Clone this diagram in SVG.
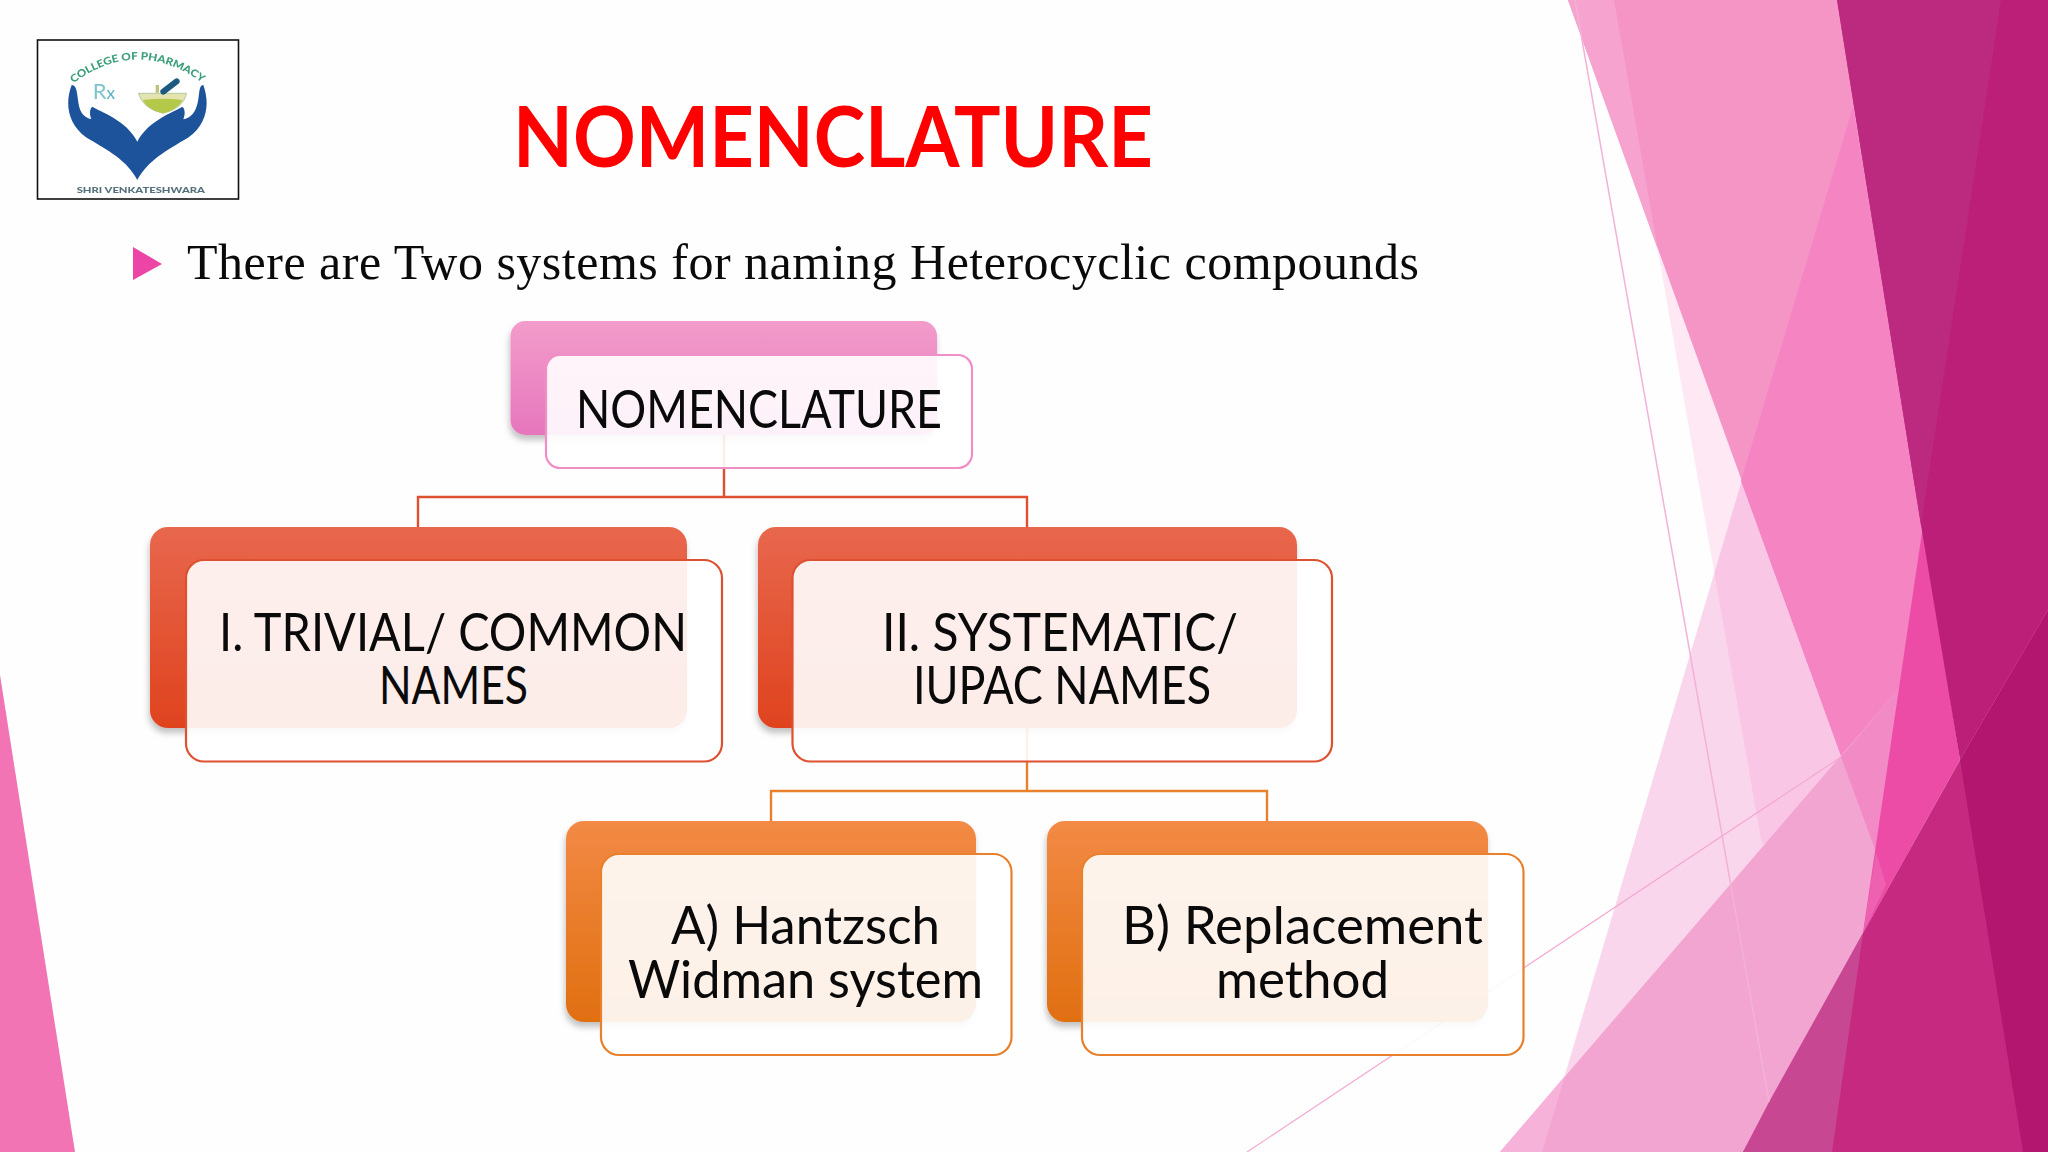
<svg xmlns="http://www.w3.org/2000/svg" width="2048" height="1152" viewBox="0 0 2048 1152">
<style>
.nt{font-family:"Lato","Noto Sans",sans-serif;font-size:52px;fill:#0a0a0a}
.front{fill:#fff;fill-opacity:.9;stroke-width:2.2}
.conn{fill:none;stroke-width:2.4}
.red{stroke:#dd5030}
.org{stroke:#e8802c}
</style>
<defs>
<linearGradient id="gp" x1="0" y1="0" x2="0" y2="1"><stop offset="0" stop-color="#f39cca"/><stop offset="1" stop-color="#e676bd"/></linearGradient>
<linearGradient id="gr" x1="0" y1="0" x2="0" y2="1"><stop offset="0" stop-color="#e8674d"/><stop offset="1" stop-color="#df431e"/></linearGradient>
<linearGradient id="go" x1="0" y1="0" x2="0" y2="1"><stop offset="0" stop-color="#f38a45"/><stop offset="1" stop-color="#e06f10"/></linearGradient>
<filter id="sh" x="-5%" y="-5%" width="110%" height="115%"><feDropShadow dx="-1" dy="5" stdDeviation="3" flood-color="#000" flood-opacity=".24"/></filter>
<filter id="soft" x="-5%" y="-5%" width="110%" height="110%"><feGaussianBlur stdDeviation="1.200"/></filter>
</defs>
<rect width="2048" height="1152" fill="#fefefe"/>
<g id="background">
<polygon points="0,675 75,1152 0,1152" fill="#f274b4"/>
<polygon points="1614,0 1762,845 1960,760 1837,0" fill="#fde8f4"/>
<polygon points="1853,107 1542,1152 1900,1152 1923,525" fill="#f06cbd" fill-opacity=".27"/>
<polygon points="1568,0 1837,0 1923,525 1900,687 1876,852" fill="#f495c6"/>
<polygon points="1568,0 1614,0 1658,250" fill="#f7a3cf"/>
<polygon points="1853,107 1923,525 1900,687 1876,852 1741,481" fill="#f484c2"/>
<polygon points="1500,1152 1900,687 1876,852 1863,933 1743,1152" fill="#f3a5d2"/>
<polygon points="1500,1152 1565,1076 1542,1152" fill="#f7b2da"/>
<polygon points="1900,687 1841,757 1876,852" fill="#f28bc5"/>
<polygon points="1923,525 1960,760 1863,933" fill="#ec4ca5"/>
<polygon points="1876,852 1886,885 1863,933" fill="#ee60b0"/>
<polygon points="1960,760 1863,933 1743,1152 2048,1152 2048,610" fill="#c62a80"/>
<polygon points="1863,933 1769,1102 1743,1152 1832,1152" fill="#c84792"/>
<polygon points="1837,0 2048,0 2048,610 1960,760 1921,525" fill="#bc1f78"/>
<polygon points="1837,0 2001,0 1921,525" fill="#bc2a80"/>
<polygon points="2048,610 2048,1152 2023,1152 1960,760" fill="#b3166f"/>
<line x1="1575" y1="0" x2="1769" y2="1102" stroke="#f2b2d6" stroke-width="1.500"/>
<line x1="1247" y1="1152" x2="1841" y2="757" stroke="#f3a8d2" stroke-width="1.200"/>
</g>
<g id="connectors">
<path class="conn red" d="M724,435V497M418,527V497H1027V527"/>
<path class="conn org" d="M1027,728V791M771,821V791H1267V821"/>
</g>
<g id="logo">
<rect x="37.500" y="40" width="201" height="159" fill="#fff" stroke="#111" stroke-width="1.600"/>
<g transform="translate(20,20) scale(.3333)" filter="url(#soft)">
<path d="M155,195C134,250 143,312 198,352C265,392 320,420 352,480C385,420 440,392 506,352C562,312 570,250 550,195C530,195 545,250 518,282C508,292 500,296 490,298C497,280 494,265 487,260C465,275 385,300 352,365C320,300 240,275 217,260C210,265 207,280 214,298C200,294 192,288 185,278C168,250 178,195 155,195Z" fill="#1b539a"/>
<path id="arc" d="M160,190Q350,48 550,190" fill="none"/>
<text font-family="Lato,sans-serif" font-weight="900" font-size="31" fill="#3a9f78"><textPath href="#arc" startOffset="0" textLength="418" lengthAdjust="spacingAndGlyphs">COLLEGE OF PHARMACY</textPath></text>
<text x="218" y="238" font-family="Lato,sans-serif" font-size="66" fill="#7cc6cc">R<tspan font-size="52" fill="#5ab4c0">x</tspan></text>
<path d="M355,220H500Q490,265 430,280Q370,268 355,220Z" fill="#e4e4b0" stroke="#b6c8a0" stroke-width="3"/>
<path d="M368,240Q430,232 488,240Q470,272 428,280Q385,270 368,240Z" fill="#b4c84a"/>
<path d="M430,215L470,184" stroke="#1e5a80" stroke-width="18" stroke-linecap="round"/>
<path d="M412,218V195" stroke="#c0c078" stroke-width="10"/>
<text x="170" y="518" font-family="Lato,sans-serif" font-weight="900" font-size="25" fill="#55707a" textLength="385" lengthAdjust="spacingAndGlyphs">SHRI VENKATESHWARA</text>
</g>
</g>
<text id="title" x="513" y="167" font-family="Lato,Noto Sans,sans-serif" font-weight="700" font-size="85" fill="#ff0000" textLength="640" lengthAdjust="spacingAndGlyphs">NOMENCLATURE</text>
<polygon points="133,247 162,264 133,280" fill="#ec45a6"/>
<text id="intro" x="187" y="279" font-family="Liberation Serif,serif" font-size="50" fill="#0a0a0a" textLength="1232">There are Two systems for naming Heterocyclic compounds</text>
<g id="node-root">
<rect x="510.500" y="321" width="426.500" height="114" rx="15" fill="url(#gp)" filter="url(#sh)"/>
<rect class="front" x="546" y="355" width="426" height="113" rx="14" stroke="#ef8fc6"/>
<text class="nt" x="576" y="428" textLength="366" lengthAdjust="spacingAndGlyphs">NOMENCLATURE</text>
</g>
<g id="node-trivial">
<rect x="150" y="527" width="537" height="201" rx="18" fill="url(#gr)" filter="url(#sh)"/>
<rect class="front" x="186" y="560" width="536" height="201.500" rx="18" stroke="#dd5030"/>
<text class="nt" x="219" y="651" textLength="468" lengthAdjust="spacingAndGlyphs">I. TRIVIAL/ COMMON</text>
<text class="nt" x="379" y="704" textLength="149" lengthAdjust="spacingAndGlyphs">NAMES</text>
</g>
<g id="node-systematic">
<rect x="758" y="527" width="539" height="201" rx="18" fill="url(#gr)" filter="url(#sh)"/>
<rect class="front" x="792.500" y="560" width="539.500" height="201.500" rx="18" stroke="#dd5030"/>
<text class="nt" x="882" y="651" textLength="356" lengthAdjust="spacingAndGlyphs">II. SYSTEMATIC/</text>
<text class="nt" x="913" y="704" textLength="298" lengthAdjust="spacingAndGlyphs">IUPAC NAMES</text>
</g>
<g id="node-hantzsch">
<rect x="566" y="821" width="410" height="201" rx="18" fill="url(#go)" filter="url(#sh)"/>
<rect class="front" x="601" y="854" width="410.500" height="201" rx="18" stroke="#e8802c"/>
<text class="nt" x="671" y="944" textLength="269" lengthAdjust="spacingAndGlyphs">A) Hantzsch</text>
<text class="nt" x="628" y="998" textLength="355" lengthAdjust="spacingAndGlyphs">Widman system</text>
</g>
<g id="node-replacement">
<rect x="1047" y="821" width="441" height="201" rx="18" fill="url(#go)" filter="url(#sh)"/>
<rect class="front" x="1082" y="854" width="441.500" height="201" rx="18" stroke="#e8802c"/>
<text class="nt" x="1122" y="944" textLength="361" lengthAdjust="spacingAndGlyphs">B) Replacement</text>
<text class="nt" x="1216" y="998" textLength="173" lengthAdjust="spacingAndGlyphs">method</text>
</g>
</svg>
